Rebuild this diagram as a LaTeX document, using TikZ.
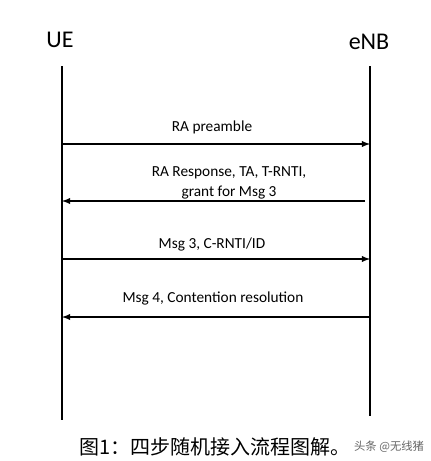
\documentclass[tikz,border=0pt]{standalone}
\usepackage{fontspec}
\setmainfont{Carlito}
\newfontfamily\cjkfont{Noto Sans CJK SC}
\usetikzlibrary{positioning, arrows}
\tikzset{
x=0.75pt, y=-0.75pt, % pixel grid, y grows downwards
>=latex, % small filled arrow heads
entity/.style={font=\fontsize{18}{20}\selectfont, inner sep=0pt},
lifeline/.style={line width=1.5pt},
msg/.style={->, line width=1.1pt},
msglabel/.style={font=\fontsize{11.5}{15}\selectfont, align=center, inner sep=0pt},
}

\begin{document}
\begin{tikzpicture}
        \useasboundingbox (0,0) rectangle (430,461);

        \node[entity] (ue) at (60,40) {UE};
        \node[entity] (enb) at (369,42) {eNB};

        \coordinate (ueTop) at (62,66);
        \coordinate (ueBot) at (62,420);
        \coordinate (enbTop) at (370,66);
        \coordinate (enbBot) at (370,416);
        \draw[lifeline] (ueTop) -- (ueBot);
        \draw[lifeline] (enbTop) -- (enbBot);

        \coordinate (ue1) at (62,144);   \coordinate (enb1) at (370,144);
        \coordinate (ue2) at (62,201);   \coordinate (enb2) at (365,201);
        \coordinate (ue3) at (62,259);   \coordinate (enb3) at (370,259);
        \coordinate (ue4) at (62,317);   \coordinate (enb4) at (370,317);

        \draw[msg] (ue1) -- (enb1);
        \draw[msg] (enb2) -- (ue2);
        \draw[msg] (ue3) -- (enb3);
        \draw[msg] (enb4) -- (ue4);

        \node[msglabel] (m1) at (212,127) {RA preamble};
        \node[msglabel] (m2) at (229,183) {RA Response, TA, T-RNTI,\\grant for Msg 3};
        \node[msglabel] (m3) at (212,244) {Msg 3, C-RNTI/ID};
        \node[msglabel] (m4) at (213,298) {Msg 4, Contention resolution};

        \node[font=\cjkfont\fontsize{15}{17}\selectfont, inner sep=0pt] (cap) at (215,447) {图1：四步随机接入流程图解。};
        \node[font=\cjkfont\fontsize{8.5}{9}\selectfont, text=black!60, inner sep=0pt, right=3 of cap] (wm) {头条 @无线猪};
      \end{tikzpicture}
\end{document}
